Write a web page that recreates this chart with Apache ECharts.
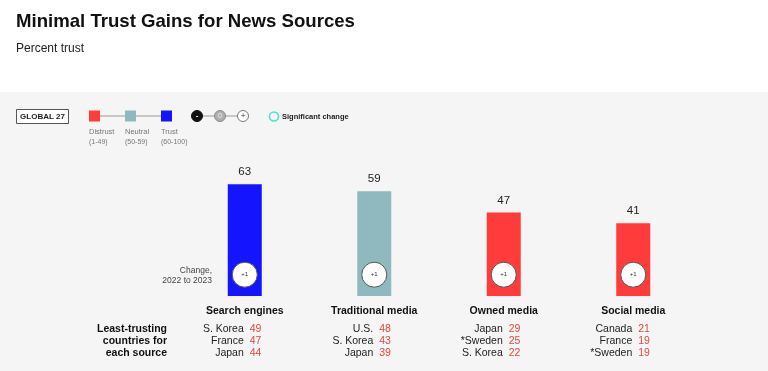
<!DOCTYPE html>
<html>
<head>
<meta charset="utf-8">
<script src="https://cdn.jsdelivr.net/npm/echarts@6/dist/echarts.min.js"></script>
<style>
  html, body { margin: 0; padding: 0; background: #ffffff; }
  #chart { width: 768px; height: 371px; }
</style>
</head>
<body>
<div id="chart"></div>
<script>
// ---- Data ----
const categories = ['Search engines', 'Traditional media', 'Owned media', 'Social media'];
const trustValues = [63, 59, 47, 41];
const changeLabels = ['+1', '+1', '+1', '+1'];
const leastCountries = [
  ['S. Korea', 'France', 'Japan'],
  ['U.S.', 'S. Korea', 'Japan'],
  ['Japan', '*Sweden', 'S. Korea'],
  ['Canada', 'France', '*Sweden']
];
const leastValues = [
  [49, 47, 44],
  [48, 43, 39],
  [29, 25, 22],
  [21, 19, 19]
];
const legendLevels = [
  { name: 'Distrust', range: '(1-49)' },
  { name: 'Neutral', range: '(50-59)' },
  { name: 'Trust', range: '(60-100)' }
];
const globalLabel = 'GLOBAL 27';

// ---- Styles ----
const FONT = '"Liberation Sans", Arial, Helvetica, sans-serif';
const RED = '#ff3b3b', TEAL = '#8fb9bf', BLUE = '#1414ff';
const levelColors = [RED, TEAL, BLUE];
function colorFor(v) { return v >= 60 ? BLUE : (v >= 50 ? TEAL : RED); }
const CHANGE_Y = 12; // vertical placement of the change markers in value units

const chart = echarts.init(document.getElementById('chart'), null, { renderer: 'canvas' });

chart.setOption({
  backgroundColor: '#ffffff',
  animation: false,
  textStyle: { fontFamily: FONT },
  title: {
    text: 'Minimal Trust Gains for News Sources',
    subtext: 'Percent trust',
    left: 11, top: 7,
    itemGap: 12,
    textStyle: { fontFamily: FONT, fontSize: 18.6, fontWeight: 'bold', color: '#111' },
    subtextStyle: { fontFamily: FONT, fontSize: 12, color: '#222' }
  },
  grid: { left: 180, right: 70, top: 154, bottom: 75 },
  xAxis: {
    type: 'category',
    data: categories,
    axisLine: { show: false },
    axisTick: { show: false },
    axisLabel: { margin: 10, fontFamily: FONT, fontSize: 10.5, fontWeight: 'bold', color: '#111' }
  },
  yAxis: { type: 'value', min: 0, max: 80, show: false, splitLine: { show: false } },
  series: [
    {
      type: 'bar',
      barWidth: 34,
      data: trustValues.map(v => ({ value: v, itemStyle: { color: colorFor(v) } })),
      label: { show: true, position: 'top', distance: 6, fontFamily: FONT, fontSize: 11.5, color: '#222' },
      z: 2
    },
    {
      type: 'scatter',
      symbol: 'circle',
      symbolSize: 25,
      data: changeLabels.map((c, i) => ({ value: [i, CHANGE_Y], label: { formatter: c } })),
      itemStyle: { color: '#ffffff', borderColor: '#555', borderWidth: 1, opacity: 1 },
      label: { show: true, position: 'inside', fontFamily: FONT, fontSize: 6, color: '#333' },
      emphasis: { disabled: true },
      z: 3
    }
  ]
});

// ---- Graphic decorations (legend, notes, least-trusting table) ----
const g = [];
// grey panel
g.push({ type: 'rect', z: -10, silent: true, shape: { x: 0, y: 92, width: 768, height: 279 }, style: { fill: '#f5f5f5' } });

// GLOBAL 27 box
g.push({ type: 'rect', shape: { x: 16.5, y: 109.5, width: 52, height: 14 }, style: { fill: '#ffffff', stroke: '#555', lineWidth: 1 } });
g.push({ type: 'text', style: { text: globalLabel, x: 42.5, y: 117, align: 'center', verticalAlign: 'middle', font: 'bold 8px ' + FONT, fill: '#222' } });

// level squares
const sqX = [89, 125, 161];
g.push({ type: 'line', shape: { x1: 99, y1: 116, x2: 161, y2: 116 }, style: { stroke: '#999', lineWidth: 1 } });
legendLevels.forEach((lv, i) => {
  g.push({ type: 'rect', shape: { x: sqX[i], y: 110.5, width: 11, height: 11 }, style: { fill: levelColors[i] } });
  g.push({ type: 'text', style: { text: lv.name, x: sqX[i], y: 132, verticalAlign: 'middle', font: '7.5px ' + FONT, fill: '#777' } });
  g.push({ type: 'text', style: { text: lv.range, x: sqX[i], y: 142, verticalAlign: 'middle', font: '7px ' + FONT, fill: '#777' } });
});

// change scale circles
g.push({ type: 'line', shape: { x1: 197, y1: 116, x2: 243, y2: 116 }, style: { stroke: '#999', lineWidth: 1 } });
g.push({ type: 'circle', shape: { cx: 197, cy: 116, r: 5.5 }, style: { fill: '#111', stroke: '#111' } });
g.push({ type: 'text', style: { text: '-', x: 197, y: 115.5, align: 'center', verticalAlign: 'middle', font: 'bold 8px ' + FONT, fill: '#fff' } });
g.push({ type: 'circle', shape: { cx: 220, cy: 116, r: 5.5 }, style: { fill: '#b0b0b0', stroke: '#888', lineWidth: 1 } });
g.push({ type: 'text', style: { text: '0', x: 220, y: 116.5, align: 'center', verticalAlign: 'middle', font: '7px ' + FONT, fill: '#eee' } });
g.push({ type: 'circle', shape: { cx: 243, cy: 116, r: 5.5 }, style: { fill: '#fff', stroke: '#777', lineWidth: 1 } });
g.push({ type: 'text', style: { text: '+', x: 243, y: 116, align: 'center', verticalAlign: 'middle', font: '8px ' + FONT, fill: '#333' } });

// significant change
g.push({ type: 'circle', shape: { cx: 274, cy: 116.5, r: 4.5 }, style: { fill: '#fff', stroke: '#45e3cf', lineWidth: 1.6 } });
g.push({ type: 'text', style: { text: 'Significant change', x: 282, y: 117, verticalAlign: 'middle', font: 'bold 7.5px ' + FONT, fill: '#222' } });

// change note
g.push({ type: 'text', style: { text: 'Change,', x: 212, y: 271, align: 'right', verticalAlign: 'middle', font: '8.5px ' + FONT, fill: '#444' } });
g.push({ type: 'text', style: { text: '2022 to 2023', x: 212, y: 281, align: 'right', verticalAlign: 'middle', font: '8.5px ' + FONT, fill: '#444' } });

// least trusting table
const rowY = [329, 341, 353];
['Least-trusting', 'countries for', 'each source'].forEach((t, r) => {
  g.push({ type: 'text', style: { text: t, x: 167, y: rowY[r], align: 'right', verticalAlign: 'middle', font: 'bold 10.5px ' + FONT, fill: '#111' } });
});
categories.forEach((c, i) => {
  const cx = chart.convertToPixel({ xAxisIndex: 0 }, i);
  leastCountries[i].forEach((name, r) => {
    g.push({ type: 'text', style: { text: name, x: cx - 1, y: rowY[r], align: 'right', verticalAlign: 'middle', font: '10.5px ' + FONT, fill: '#222' } });
    g.push({ type: 'text', style: { text: String(leastValues[i][r]), x: cx + 5, y: rowY[r], align: 'left', verticalAlign: 'middle', font: '10.5px ' + FONT, fill: '#e8453c' } });
  });
});

chart.setOption({ graphic: g });
</script>
</body>
</html>
